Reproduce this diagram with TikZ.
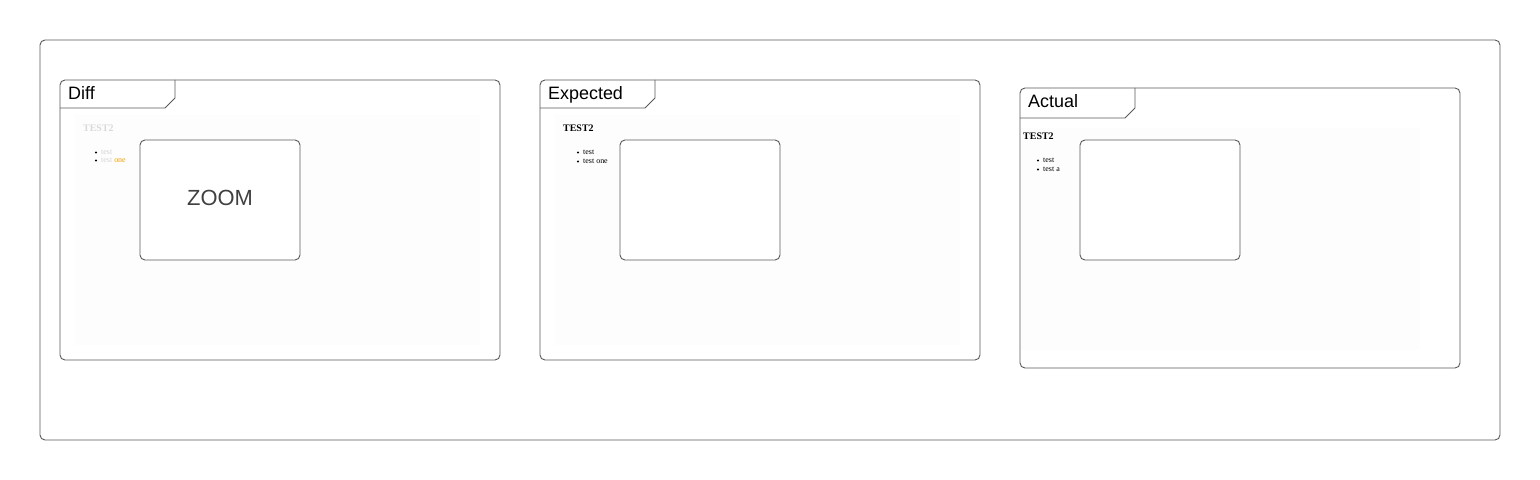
\documentclass[tikz,border=0pt]{standalone}
\usepackage{fontspec}
\setmainfont{Liberation Serif}
\setsansfont{Liberation Sans}
\definecolor{diffor}{RGB}{240,160,0}
\begin{document}
\begin{tikzpicture}[x=1bp,y=-1bp,
  frameline/.style={draw=black!65,line width=0.9bp,rounded corners=5bp},
  tabline/.style={draw=black!65,line width=0.9bp},
  tablabel/.style={font=\sffamily\fontsize{18}{18}\selectfont,anchor=base west,inner sep=0pt},
  heading/.style={font=\bfseries\fontsize{10}{10}\selectfont,anchor=base west,inner sep=0pt},
  item/.style={font=\fontsize{8}{8}\selectfont,anchor=base west,inner sep=0pt},
  bul/.style={circle,fill,inner sep=0pt,minimum size=2.4bp},
  shot/.style={fill=black!0.6,draw=none}
]
\useasboundingbox (0,0) rectangle (1540,480);
\fill[white] (0,0) rectangle (1540,480);
% outer
\draw[frameline] (40,40) rectangle (1500,440);
\node[coordinate] (outer) at (770,240) {};

% ---- Diff panel
\fill[shot] (75,115) rectangle (480,345);
\draw[frameline] (60,80) rectangle (500,360);
\draw[tabline] (60,108) -- (165,108) -- (175,98) -- (175,80);
\node[tablabel] (difflbl) at (68,100) {Diff};
\node[heading,text=black!15] (diffh) at (83,132) {TEST2};
\node[bul,text=black!17] (db1) at (96,152.5) {};
\node[bul,text=black!17] (db2) at (96,160.5) {};
\node[item,text=black!17] (dt1) at (101,155) {test};
\node[item] (dt2) at (101,163) {\textcolor{black!17}{test }\textcolor{diffor}{one}};
\draw[frameline,fill=white] (140,140) rectangle (300,260);
\node[font=\sffamily\fontsize{22}{22}\selectfont,text=black!75] (zoom) at (220,198) {ZOOM};

% ---- Expected panel
\fill[shot] (555,115) rectangle (960,345);
\draw[frameline] (540,80) rectangle (980,360);
\draw[tabline] (540,108) -- (645,108) -- (655,98) -- (655,80);
\node[tablabel] (explbl) at (548,100) {Expected};
\node[heading] (exph) at (563,132) {TEST2};
\node[bul] (eb1) at (578,152.5) {};
\node[bul] (eb2) at (578,161.5) {};
\node[item] (et1) at (583,155) {test};
\node[item] (et2) at (583,164) {test one};
\draw[frameline,fill=white] (620,140) rectangle (780,260);

% ---- Actual panel
\fill[shot] (1020,128) rectangle (1420,350);
\draw[frameline] (1020,88) rectangle (1460,368);
\draw[tabline] (1020,118) -- (1125,118) -- (1135,108) -- (1135,88);
\node[tablabel] (actlbl) at (1028,108) {Actual};
\node[heading] (acth) at (1023,140) {TEST2};
\node[bul] (ab1) at (1038,160.5) {};
\node[bul] (ab2) at (1038,169.5) {};
\node[item] (at1) at (1043,163) {test};
\node[item] (at2) at (1043,172) {test a};
\draw[frameline,fill=white] (1080,140) rectangle (1240,260);
\end{tikzpicture}
\end{document}
